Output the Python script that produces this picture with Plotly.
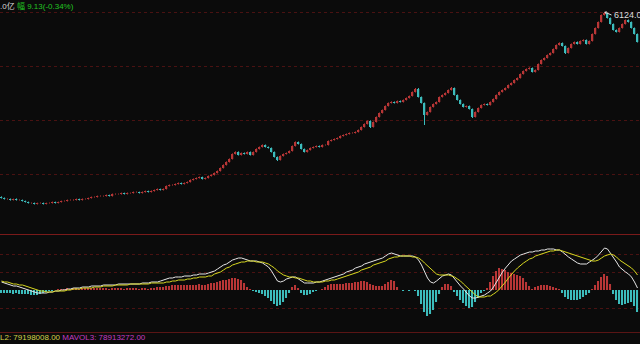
import plotly.graph_objects as go

# ---------------- data ----------------
idx = list(range(213))

opens = [1684,1660,1636,1636,1612,1636,1612,1612,1588,1564,1540,1540,1516,1540,1540,1516,1540,1540,1564,1540,
1564,1588,1588,1612,1612,1612,1636,1612,1636,1636,1660,1684,1684,1708,1708,1708,1732,1708,1756,1756,
1756,1780,1756,1780,1780,1804,1804,1780,1804,1828,1804,1828,1852,1876,1852,1876,1948,1972,1972,1996,
2020,1996,2020,2044,2092,2116,2140,2164,2116,2140,2188,2212,2260,2308,2380,2452,2524,2596,2716,2764,
2692,2740,2716,2764,2692,2764,2836,2884,2932,2884,2860,2764,2644,2572,2668,2716,2740,2788,2908,3004,
2956,2836,2764,2812,2860,2884,2908,2884,2932,2932,3028,3052,3076,3100,3148,3172,3196,3220,3220,3244,
3292,3364,3436,3508,3364,3484,3604,3700,3772,3868,3940,3964,3940,3988,3964,4012,4060,4108,4204,4276,
4084,3940,3652,3724,3844,3916,3964,4084,4132,4180,4252,4300,4132,4012,3916,3844,3868,3796,3604,3724,
3820,3892,3916,3892,3964,4036,4132,4204,4252,4300,4372,4420,4492,4540,4636,4708,4756,4780,4684,4732,
4876,4972,5020,5092,5140,5236,5332,5380,5308,5140,5260,5356,5404,5356,5428,5452,5356,5428,5596,5740,
5884,6052,6100,5980,5836,5692,5644,5740,5836,5932,5884,5740,5596]

closes = [1660,1636,1636,1612,1636,1612,1612,1588,1564,1540,1540,1516,1540,1540,1516,1540,1540,1564,1540,1564,
1588,1588,1612,1612,1612,1636,1612,1636,1636,1660,1684,1684,1708,1708,1708,1732,1708,1756,1756,1756,
1780,1756,1780,1780,1804,1804,1780,1804,1828,1804,1828,1852,1876,1852,1876,1948,1972,1972,1996,2020,
1996,2020,2044,2092,2116,2140,2164,2116,2140,2188,2212,2260,2308,2380,2452,2524,2596,2716,2764,2692,
2740,2716,2764,2692,2764,2836,2884,2932,2884,2860,2764,2644,2572,2668,2716,2740,2788,2908,3004,2956,
2836,2764,2812,2860,2884,2908,2884,2932,2932,3028,3052,3076,3100,3148,3172,3196,3220,3220,3244,3292,
3364,3436,3508,3364,3484,3604,3700,3772,3868,3940,3964,3940,3988,3964,4012,4060,4108,4204,4276,4084,
3940,3652,3724,3844,3916,3964,4084,4132,4180,4252,4300,4132,4012,3916,3844,3868,3796,3604,3724,3820,
3892,3916,3892,3964,4036,4132,4204,4252,4300,4372,4420,4492,4540,4636,4708,4756,4780,4684,4732,4876,
4972,5020,5092,5140,5236,5332,5380,5308,5140,5260,5356,5404,5356,5428,5452,5356,5428,5596,5740,5884,
6052,6100,5980,5836,5692,5644,5740,5836,5932,5884,5740,5596,5404]

highs = [1700,1672,1650,1648,1644,1650,1626,1622,1598,1574,1552,1550,1548,1552,1550,1548,1552,1574,1572,1572,
1596,1600,1622,1624,1626,1646,1644,1648,1648,1668,1694,1696,1718,1720,1718,1742,1740,1766,1768,1766,
1790,1788,1792,1790,1814,1816,1812,1816,1838,1836,1840,1862,1888,1884,1888,1960,1984,1986,2008,2032,
2030,2032,2056,2104,2128,2152,2176,2172,2152,2200,2224,2272,2320,2392,2466,2538,2610,2730,2780,2778,
2752,2752,2776,2776,2776,2850,2896,2946,2944,2896,2872,2776,2656,2680,2728,2752,2800,2920,3018,3016,
2968,2848,2824,2872,2896,2920,2920,2944,2944,3040,3064,3088,3112,3160,3184,3208,3232,3234,3256,3304,
3376,3450,3520,3524,3496,3616,3712,3784,3880,3952,3980,3976,4000,4000,4024,4072,4120,4216,4300,4300,
4096,3952,3736,3856,3928,3976,4096,4144,4192,4264,4324,4312,4144,4024,3928,3880,3880,3808,3736,3832,
3904,3928,3928,3976,4048,4144,4216,4264,4312,4384,4432,4504,4552,4648,4720,4768,4796,4792,4744,4888,
4984,5032,5104,5152,5248,5344,5396,5392,5320,5272,5368,5416,5416,5440,5468,5464,5440,5608,5752,5896,
6064,6124,6112,5992,5848,5704,5752,5848,5944,5944,5896,5752,5608]

lows = [1648,1624,1622,1598,1600,1598,1600,1576,1552,1528,1526,1504,1504,1528,1504,1506,1528,1528,1528,1530,
1552,1576,1576,1600,1598,1600,1600,1600,1624,1624,1648,1670,1672,1696,1694,1696,1696,1696,1742,1744,
1742,1744,1744,1766,1768,1790,1768,1768,1790,1792,1792,1814,1840,1840,1840,1864,1936,1958,1960,1984,
1984,1984,2008,2032,2080,2104,2128,2104,2104,2128,2176,2200,2248,2296,2368,2440,2512,2584,2704,2680,
2680,2704,2704,2680,2680,2752,2824,2872,2872,2848,2752,2632,2548,2560,2656,2704,2728,2776,2896,2944,
2824,2752,2752,2800,2848,2872,2872,2872,2920,2920,3016,3040,3064,3088,3136,3160,3184,3208,3208,3232,
3280,3352,3424,3340,3352,3472,3592,3688,3760,3856,3928,3928,3928,3952,3952,4000,4048,4096,4192,4072,
3928,3412,3640,3712,3832,3904,3952,4072,4120,4168,4240,4120,4000,3904,3832,3832,3784,3580,3592,3712,
3808,3880,3880,3880,3952,4024,4120,4192,4240,4288,4360,4408,4480,4528,4624,4696,4744,4672,4672,4720,
4864,4960,5008,5080,5128,5224,5320,5296,5116,5128,5248,5344,5344,5344,5416,5344,5344,5416,5584,5728,
5872,6040,5968,5824,5680,5632,5632,5728,5824,5872,5728,5584,5392]

dif = [40,35,30,25,20,20,15,10,5,0,-5,-10,-15,
-15,-15,-15,-10,-10,
-5,-5,0,0,
5,5,10,10,10,15,15,15,
20,20,20,20,25,25,25,25,
25,30,30,30,30,30,30,30,30,35,35,35,
40,40,40,45,50,55,60,60,65,65,
65,70,70,70,75,75,80,80,80,85,
90,95,105,115,125,130,140,150,155,160,
160,155,150,145,145,145,140,135,125,115,
95,70,45,40,45,55,60,65,65,55,
45,35,35,35,35,40,40,45,50,55,
60,65,70,75,80,90,95,100,110,115,
120,130,135,140,145,150,155,160,170,180,
185,180,175,170,170,170,170,170,165,150,
125,90,60,40,35,45,60,70,75,80,
75,55,35,20,5,-15,-30,-40,-40,-35,
-30,-25,-15,-5,15,40,70,90,110,130,
145,155,165,175,180,185,190,190,195,195,
200,200,205,205,205,200,200,190,175,165,
155,145,135,130,130,130,140,150,160,175,
195,210,205,185,165,140,115,100,90,80,
65,40,10]

dea = [45,40,40,35,30,30,25,25,20,15,10,5,0,
-5,-5,-10,-10,-10,
-5,-5,-5,-5,
0,0,5,5,5,10,10,10,
10,15,15,15,20,20,20,20,
25,25,25,25,25,30,30,30,30,30,30,30,
35,35,35,35,35,40,40,45,45,50,
50,50,55,55,60,60,65,65,65,70,
70,80,85,90,100,110,115,125,130,135,
140,140,145,145,145,140,140,140,135,130,
120,110,95,85,75,70,65,65,60,60,
55,50,45,45,40,40,40,40,45,45,
50,50,55,60,65,70,75,80,85,90,
100,105,110,115,125,130,135,140,145,155,
160,165,165,170,170,170,170,165,165,160,
150,135,120,105,90,80,75,75,75,75,
70,65,55,45,30,15,0,-15,-25,-35,
-35,-35,-30,-30,-20,-10,5,20,40,60,
80,95,110,125,135,145,155,160,170,175,
180,185,190,195,195,200,200,195,190,185,
180,175,170,165,160,155,150,145,145,150,
160,170,175,180,175,165,150,140,130,120,
110,95,75]

macd_hist = [-15,-15,-15,-15,-20,-15,-20,-20,-20,-20,-25,-25,-25,
-20,-15,-10,-5,-5,
0,5,5,5,
10,5,10,10,5,10,10,10,
10,10,10,10,10,10,5,10,
10,10,10,5,10,10,10,10,5,10,10,5,
10,10,15,15,15,20,20,25,25,25,
25,25,25,25,25,25,30,25,25,30,
35,35,40,45,50,50,55,60,60,55,
50,35,15,5,-5,-10,-15,-20,-30,-40,
-55,-70,-80,-75,-60,-40,-15,15,25,10,
-15,-25,-25,-20,-10,-5,0,5,15,25,
30,30,30,30,30,35,35,35,40,40,
45,45,40,30,25,20,20,20,30,40,
50,45,15,0,-5,0,-5,0,-5,-30,
-70,-110,-130,-120,-100,-60,-20,15,30,30,
20,-10,-30,-50,-65,-80,-90,-85,-60,-40,
-15,-5,10,40,70,95,110,105,100,90,
85,80,75,70,60,40,20,5,15,20,
25,25,25,20,15,10,5,-15,-35,-45,
-50,-50,-50,-45,-35,-25,-15,5,25,45,
65,80,70,30,-20,-50,-70,-75,-70,-65,
-60,-80,-110]

price_grid = [6124, 4828, 3532, 2236]
macd_grid = [180, 90, -90]
peak_label = "6124.04"

# ---------------- styles ----------------
BG = "#0b0b0b"
UP = "#b83636"
DOWN = "#3cbcbc"
GRID = "#4a1212"
SEP = "#7a1a1a"
FONT = "Liberation Sans, Arial, sans-serif"

fig = go.Figure()

# wicks (one line per candle, split by direction)
up_wx, up_wy, dn_wx, dn_wy = [], [], [], []
for i, o, h, l, c in zip(idx, opens, highs, lows, closes):
    if c >= o:
        up_wx += [i, i, None]; up_wy += [l, h, None]
    else:
        dn_wx += [i, i, None]; dn_wy += [l, h, None]
fig.add_trace(go.Scatter(x=up_wx, y=up_wy, mode="lines", line=dict(color=UP, width=1),
                         xaxis="x", yaxis="y", showlegend=False, hoverinfo="skip"))
fig.add_trace(go.Scatter(x=dn_wx, y=dn_wy, mode="lines", line=dict(color=DOWN, width=1),
                         xaxis="x", yaxis="y", showlegend=False, hoverinfo="skip"))

# bodies
body = [c - o for o, c in zip(opens, closes)]
body_colors = [UP if c >= o else DOWN for o, c in zip(opens, closes)]
fig.add_trace(go.Bar(x=idx, y=body, base=opens, width=0.5,
                     marker=dict(color=body_colors, line=dict(width=0)),
                     xaxis="x", yaxis="y", showlegend=False, hoverinfo="skip"))

# MACD
bar_colors = [UP if v >= 0 else DOWN for v in macd_hist]
fig.add_trace(go.Bar(x=idx, y=macd_hist, marker=dict(color=bar_colors, line=dict(width=0)),
                     width=0.36, xaxis="x2", yaxis="y2", showlegend=False, hoverinfo="skip"))
fig.add_trace(go.Scatter(x=idx, y=dif, mode="lines", line=dict(color="#e6e6e6", width=1),
                         xaxis="x2", yaxis="y2", showlegend=False, hoverinfo="skip"))
fig.add_trace(go.Scatter(x=idx, y=dea, mode="lines", line=dict(color="#d8d820", width=1),
                         xaxis="x2", yaxis="y2", showlegend=False, hoverinfo="skip"))

xr = [-0.5, 212.83]
ax_common = dict(range=xr, showgrid=False, zeroline=False, showticklabels=False,
                 showline=False, ticks="", fixedrange=True)

fig.update_layout(
    width=640, height=344,
    margin=dict(l=0, r=0, t=0, b=0),
    paper_bgcolor=BG, plot_bgcolor=BG,
    barmode="overlay",
    xaxis=dict(domain=[0, 1], anchor="y", **ax_common),
    yaxis=dict(domain=[1 - 234 / 344, 1], range=[796, 6412], tickvals=price_grid,
               showgrid=True, gridcolor=GRID, griddash="dot", gridwidth=1,
               zeroline=False, showticklabels=False, ticks="", showline=False),
    xaxis2=dict(domain=[0, 1], anchor="y2", **ax_common),
    yaxis2=dict(domain=[12 / 344, 109 / 344], range=[-210, 275], tickvals=macd_grid,
                showgrid=True, gridcolor=GRID, griddash="dot", gridwidth=1,
                zeroline=False, showticklabels=False, ticks="", showline=False),
    font=dict(family=FONT, size=10, color="#d0d0d0"),
)

fig.add_shape(type="line", xref="paper", yref="paper", x0=0, x1=1,
              y0=1 - 234.5 / 344, y1=1 - 234.5 / 344, line=dict(color=SEP, width=1))
fig.add_shape(type="line", xref="paper", yref="paper", x0=0, x1=1,
              y0=1 - 332.5 / 344, y1=1 - 332.5 / 344, line=dict(color="#5a1515", width=1))

# top-left info text
fig.add_annotation(xref="paper", yref="paper", x=0, y=1, xanchor="left", yanchor="top",
                   showarrow=False, align="left", xshift=-2,
                   text="<span style='color:#d8d8d8'>.0亿</span> "
                        "<span style='color:#22c422'>幅</span> "
                        "<span style='color:#22c422'>9.13(-0.34%)</span>",
                   font=dict(family=FONT + ", Noto Sans CJK SC", size=8),
                   yshift=1)

# bottom volume text
fig.add_annotation(xref="paper", yref="paper", x=0, y=0, xanchor="left", yanchor="bottom",
                   showarrow=False, align="left", xshift=-2,
                   text="<span style='color:#d2d24a'>L2: 79198008.00</span> "
                        "<span style='color:#c23cc2'>MAVOL3: 78913272.00</span>",
                   font=dict(family=FONT, size=8),
                   yshift=0)

# peak label
fig.add_annotation(x=201, y=max(highs), xref="x", yref="y", text=peak_label,
                   showarrow=True, arrowhead=1, arrowsize=0.6, arrowwidth=1,
                   arrowcolor="#dddddd", ax=7, ay=3, xanchor="left", yanchor="middle",
                   font=dict(color="#dddddd", size=9, family=FONT))

fig.write_html("out.html")
